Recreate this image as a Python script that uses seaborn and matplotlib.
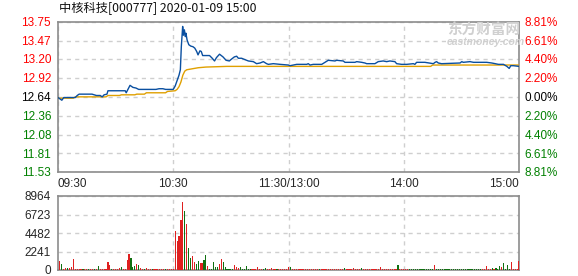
import numpy as np
import pandas as pd
import matplotlib
matplotlib.use("Agg")
import matplotlib.pyplot as plt
import seaborn as sns

sns.set_theme(style="white")
plt.rcParams['font.family'] = ['Liberation Sans', 'Noto Sans CJK SC', 'DejaVu Sans']

title = "中核科技[000777] 2020-01-09 15:00"
pre_close = 12.64
price_ticks = [13.75, 13.47, 13.20, 12.92, 12.64, 12.36, 12.08, 11.81, 11.53]
price_labels = ["13.75", "13.47", "13.20", "12.92", "12.64", "12.36", "12.08", "11.81", "11.53"]
pct_labels = ["8.81%", "6.61%", "4.40%", "2.20%", "0.00%", "2.20%", "4.40%", "6.61%", "8.81%"]
time_ticks = [0, 60, 120, 180, 240]
time_labels = ["09:30", "10:30", "11:30/13:00", "14:00", "15:00"]
vol_ticks = [0, 2241, 4482, 6723, 8964]
vol_labels = ["0", "2241", "4482", "6723", "8964"]

# price line (minutes since 09:30, trading minutes)
price_t = [0, 2, 3, 9, 10, 11, 17.7, 20, 22, 23, 24, 25.5, 26, 35, 35.5, 37.5, 39, 40.6, 42,
           51, 52.6, 54.6, 56, 60, 61, 62, 63, 63.7, 64.2, 64.9, 65.3, 65.8, 66.3, 66.6, 67.2,
           68.1, 69.1, 70.3, 71.2, 72.2, 72.9, 73.9, 74.6, 75.3, 78.9, 80.3, 81.5, 82.5, 84.1,
           85.9, 87.5, 89.2, 90.0, 91.8, 93.0, 93.9, 95.6, 97.3, 99.1, 101.7, 103.4, 105.2,
           106.9, 108.6, 109.5, 112.1, 115.6, 119.9, 120.8, 124.3, 129.5, 130.3, 131.2, 132.9,
           137.3, 139.0, 140.7, 144.2, 145.1, 148.5, 149.4, 154.6, 155.5, 158.1, 159.8, 160.7,
           165.0, 166.7, 169.3, 171.1, 172.8, 175.4, 176.3, 178.9, 181.5, 185.0, 185.8, 186.7,
           191.0, 195.4, 196.3, 197.1, 198.0, 199.7, 209.3, 210.2, 211.0, 214.5, 216.3, 223.2,
           225.8, 227.6, 229.3, 231.9, 233.7, 234.9, 235.7, 237.1, 240]
price_v = [12.63, 12.59, 12.63, 12.63, 12.66, 12.68, 12.68, 12.66, 12.66, 12.64, 12.67, 12.68, 12.73,
           12.73, 12.70, 12.81, 12.78, 12.77, 12.75,
           12.75, 12.76, 12.76, 12.75, 12.75, 12.80, 12.88, 12.96, 13.04, 13.38, 13.68, 13.55,
           13.63, 13.53, 13.58, 13.48,
           13.41, 13.39, 13.38, 13.36, 13.31, 13.26, 13.32, 13.31, 13.25, 13.25, 13.21, 13.17,
           13.22, 13.27,
           13.23, 13.18, 13.17, 13.19, 13.23, 13.24, 13.21, 13.21, 13.19, 13.17, 13.16, 13.13,
           13.14,
           13.16, 13.13, 13.12, 13.13, 13.12, 13.11, 13.10, 13.12, 13.12, 13.13, 13.11, 13.12,
           13.12, 13.15, 13.18, 13.17, 13.18, 13.17, 13.15, 13.15, 13.16, 13.15, 13.14, 13.13,
           13.13, 13.16, 13.17, 13.16, 13.17, 13.16, 13.13, 13.12, 13.12, 13.13, 13.12, 13.15,
           13.15, 13.13, 13.15, 13.16, 13.14, 13.13, 13.14, 13.16, 13.15, 13.16, 13.15, 13.15,
           13.14, 13.13, 13.12, 13.12, 13.09, 13.06, 13.10, 13.10, 13.09]

# average price line
avg_t = [0, 8, 9, 25, 26, 32, 33, 40, 41, 45, 46, 56, 57, 61, 62, 63, 64, 65, 66, 67, 69, 73,
         77, 88, 194, 195, 240]
avg_v = [12.62, 12.62, 12.64, 12.64, 12.66, 12.66, 12.67, 12.67, 12.68, 12.68, 12.70, 12.70,
         12.72, 12.73, 12.75, 12.79, 12.86, 12.96, 13.02, 13.04, 13.05, 13.07, 13.08, 13.09,
         13.09, 13.11, 13.11]

# per-minute volume (minutes 1..240)
vol = [1126, 764, 120, 281, 281, 281, 400, 1367, 120, 120,
       120, 120, 120, 120, 120, 120, 120, 120, 120, 120,
       520, 120, 120, 120, 120, 1000, 640, 120, 120, 120,
       120, 200, 400, 160, 120, 1246, 1970, 1487, 320, 440,
       764, 640, 240, 120, 160, 200, 120, 120, 120, 120,
       120, 120, 120, 120, 120, 120, 120, 120, 120, 120,
       4743, 3538, 4140, 6070, 8240, 7155, 5628, 2693, 1407, 1728,
       924, 683, 1126, 804, 884, 1166, 1849, 522, 160, 160,
       924, 360, 400, 764, 1367, 965, 400, 160, 160, 160,
       160, 603, 360, 200, 320, 160, 160, 482, 120, 120,
       120, 120, 120, 360, 120, 120, 120, 240, 120, 120,
       240, 120, 120, 120, 120, 120, 120, 120, 120, 320,
       400, 120, 120, 120, 120, 120, 120, 120, 120, 120,
       120, 120, 120, 120, 120, 120, 120, 120, 120, 120,
       120, 120, 120, 120, 120, 120, 120, 120, 240, 120,
       120, 120, 120, 280, 120, 120, 120, 280, 120, 120,
       120, 120, 120, 120, 120, 120, 120, 400, 120, 120,
       120, 120, 120, 120, 120, 120, 640, 120, 120, 120,
       120, 120, 120, 120, 120, 120, 120, 120, 120, 120,
       120, 120, 120, 120, 120, 640, 120, 120, 120, 120,
       120, 120, 120, 120, 120, 120, 120, 120, 120, 120,
       120, 120, 120, 120, 120, 120, 120, 120, 120, 120,
       120, 120, 520, 120, 120, 280, 120, 280, 120, 520,
       320, 884, 120, 640, 120, 1000, 120, 120, 120, 1126]
vol_dir = ("rgrrgrrrrr" "rrgrrgrrgr" "grrrrrrgrr" "rrgrrrrggg" "rgrrgrrrgr"
           "rrrrrgrrrr" "rrrrrgrggr" "rggrrggrgg" "gggrrggggg" "grrrgggggg"
           "rrrrrrggrr" "rrrgrrrrrr" "grrrrrrrrr" "rrrrrgrrrr" "rrrrrrrrgr"
           "rrrrrrrgrr" "rrrrrrrrrr" "rrrrrrgrrr" "rrgggggggg" "gggggrgggg"
           "gggggggggg" "gggggggggg" "rrrrrgrggg" "rggggrrrrr")

RED = "#ff0000"
GREEN = "#008000"
BLACK = "#000000"
SPINE = "#8c8c8c"
GRID = "#cfcfcf"

fig = plt.figure(figsize=(5.78, 2.76), dpi=100)
ax = fig.add_axes([58/578, 1-172/276, 461/578, 150.3/276])
axv = fig.add_axes([58/578, 1-270/276, 461/578, 74/276])

pdf = pd.DataFrame({"t": price_t, "p": price_v})
adf = pd.DataFrame({"t": avg_t, "p": avg_v})
sns.lineplot(data=adf, x="t", y="p", ax=ax, color="#e0a000", linewidth=1.0, zorder=3)
sns.lineplot(data=pdf, x="t", y="p", ax=ax, color="#0a4fa0", linewidth=1.0, zorder=4)

ax.set_xlim(0, 240)
ax.set_ylim(price_ticks[-1], price_ticks[0])
ax.set_yticks(price_ticks)
ax.set_yticklabels(price_labels)
ax.set_xticks(time_ticks)
ax.set_xticklabels(time_labels)
ax.set_xlabel("")
ax.set_ylabel("")
ax.grid(True, color=GRID, linestyle=(0, (3, 3)), linewidth=1.0)
ax.tick_params(axis="both", length=0, labelsize=8.5, pad=4)
ax.tick_params(axis="y", pad=5)
for lbl, v in zip(ax.get_yticklabels(), price_ticks):
    lbl.set_color(RED if v > pre_close else (BLACK if v == pre_close else GREEN))
xl = ax.get_xticklabels()
xl[0].set_horizontalalignment("left")
xl[-1].set_horizontalalignment("right")
for s in ax.spines.values():
    s.set_color(SPINE)
    s.set_linewidth(1.2)

ax2 = ax.twinx()
ax2.set_ylim(ax.get_ylim())
ax2.set_yticks(price_ticks)
ax2.set_yticklabels(pct_labels)
ax2.tick_params(axis="y", length=0, labelsize=8.5, pad=4)
for lbl, v in zip(ax2.get_yticklabels(), price_ticks):
    lbl.set_color(RED if v > pre_close else (BLACK if v == pre_close else GREEN))
for s in ax2.spines.values():
    s.set_visible(False)
ax2.grid(False)

vdf = pd.DataFrame({"m": np.arange(1, 241), "v": vol, "d": list(vol_dir)})
sns.barplot(data=vdf, x="m", y="v", hue="d", palette={"r": RED, "g": GREEN},
            native_scale=True, dodge=False, width=0.6, linewidth=0, errorbar=None,
            legend=False, ax=axv, zorder=3, antialiased=False)
axv.set_xlim(0, 240)
axv.set_ylim(0, vol_ticks[-1])
axv.set_yticks(vol_ticks)
axv.set_yticklabels(vol_labels)
axv.set_xticks(time_ticks[1:-1])
axv.set_xticklabels([])
axv.set_xlabel("")
axv.set_ylabel("")
axv.grid(True, color=GRID, linestyle=(0, (3, 3)), linewidth=1.0)
axv.set_axisbelow(True)
axv.tick_params(axis="both", length=0, labelsize=8.5, pad=5)
for s in axv.spines.values():
    s.set_color(SPINE)
    s.set_linewidth(1.2)

fig.text(59/578, 1-9/276, title, fontsize=8.8, va="center", ha="left",
         family=['Noto Sans CJK SC', 'DejaVu Sans'], color="#111111")
fig.text(447/578, 1-30/276, "东方财富网", fontsize=10.5, va="center", ha="left",
         family=['Noto Sans CJK SC'], color="#d0d0d0", fontweight="bold", zorder=0)
fig.text(447/578, 1-42/276, "eastmoney.com", fontsize=7.5, va="center", ha="left",
         color="#d0d0d0", fontweight="bold", style="italic", zorder=0)

fig.savefig("out.png", dpi=100)
